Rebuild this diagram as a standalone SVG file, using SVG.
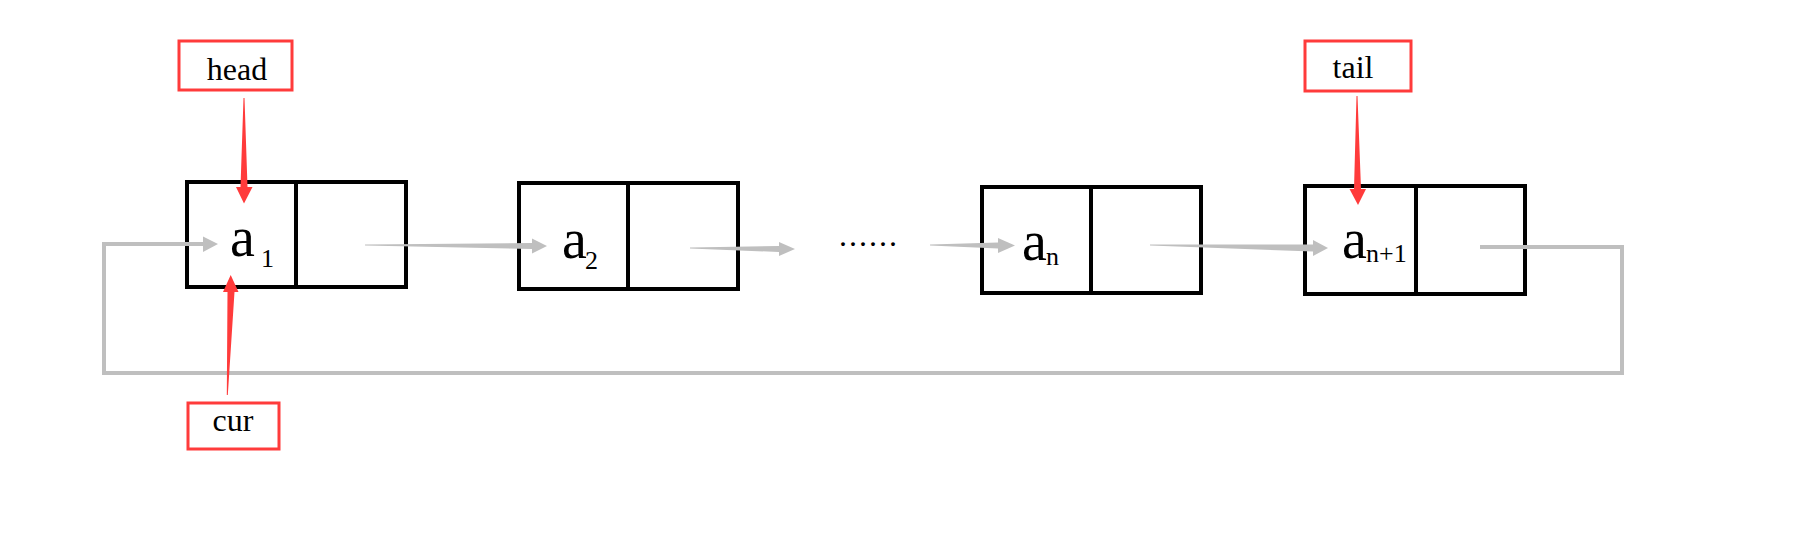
<svg xmlns="http://www.w3.org/2000/svg" width="1804" height="549" viewBox="0 0 1804 549">
<style>
.node{fill:#fff;stroke:#000;stroke-width:4}
.div{stroke:#000;stroke-width:4}
.lbl{fill:#fff;stroke:#FF3B3B;stroke-width:3}
.t{font-family:"Liberation Serif","Times New Roman",serif;fill:#000}
.big{font-size:56px}
.sub{font-size:26px}
.name{font-size:32px;text-anchor:middle}
.gray{fill:#BFBFBF}
.red{fill:#FF3B3B}
.loop{fill:none;stroke:#BFBFBF;stroke-width:4}
</style>
<rect width="1804" height="549" fill="#fff"/>
<g id="node-a1">
<rect class="node" x="187" y="182" width="219" height="105"/>
<line class="div" x1="296" y1="182" x2="296" y2="287"/>
<text class="t big" x="230" y="256">a</text>
<text class="t sub" x="261" y="267">1</text>
</g>
<g id="node-a2">
<rect class="node" x="519" y="183" width="219" height="106"/>
<line class="div" x1="628" y1="183" x2="628" y2="289"/>
<text class="t big" x="562" y="258">a</text>
<text class="t sub" x="585" y="269">2</text>
</g>
<g id="ellipsis">
<text class="t" x="839" y="246" font-size="32" letter-spacing="2">......</text>
</g>
<g id="node-an">
<rect class="node" x="982" y="187" width="219" height="106"/>
<line class="div" x1="1091" y1="187" x2="1091" y2="293"/>
<text class="t big" x="1022" y="260">a</text>
<text class="t sub" x="1046" y="265">n</text>
</g>
<g id="node-an1">
<rect class="node" x="1305" y="186" width="220" height="108"/>
<line class="div" x1="1416" y1="186" x2="1416" y2="294"/>
<text class="t big" x="1342" y="258">a</text>
<text class="t sub" x="1366" y="262">n+1</text>
</g>
<g id="label-head">
<rect class="lbl" x="179" y="41" width="113" height="49"/>
<text class="t name" x="237" y="80">head</text>
</g>
<g id="label-cur">
<rect class="lbl" x="188" y="403" width="91" height="46"/>
<text class="t name" x="233" y="431">cur</text>
</g>
<g id="label-tail">
<rect class="lbl" x="1305" y="41" width="106" height="50"/>
<text class="t name" x="1353" y="78">tail</text>
</g>
<g id="connectors">
<polygon class="gray" points="365,244.5 532,243 532,238.5 547,246 532,253.5 532,249 365,245.5"/>
<polygon class="gray" points="690,247.5 779,246 779,242 795,249 779,256 779,252 690,248.5"/>
<polygon class="gray" points="930,244.5 998,242.5 998,238 1015,245.5 998,253 998,248.5 930,245.5"/>
<polygon class="gray" points="1150,244.5 1313,244.5 1313,240 1328,248 1313,256 1313,251.5 1150,245.5"/>
<polyline class="loop" points="1480,247 1622,247 1622,373 104,373 104,244 204,244"/>
<polygon class="gray" points="203,236.5 218,244 203,252"/>
<polygon class="red" points="243.5,98 244.5,98 247.5,187 252.5,187 244,203.5 236,187 240.5,187"/>
<polygon class="red" points="226.8,395 227.8,395 234.5,292 238.5,292 230.7,275 223,292 227.5,292"/>
<polygon class="red" points="1356.5,96 1357.5,96 1361,189 1366,189 1358,205 1349.5,189 1354,189"/>
</g>
</svg>
